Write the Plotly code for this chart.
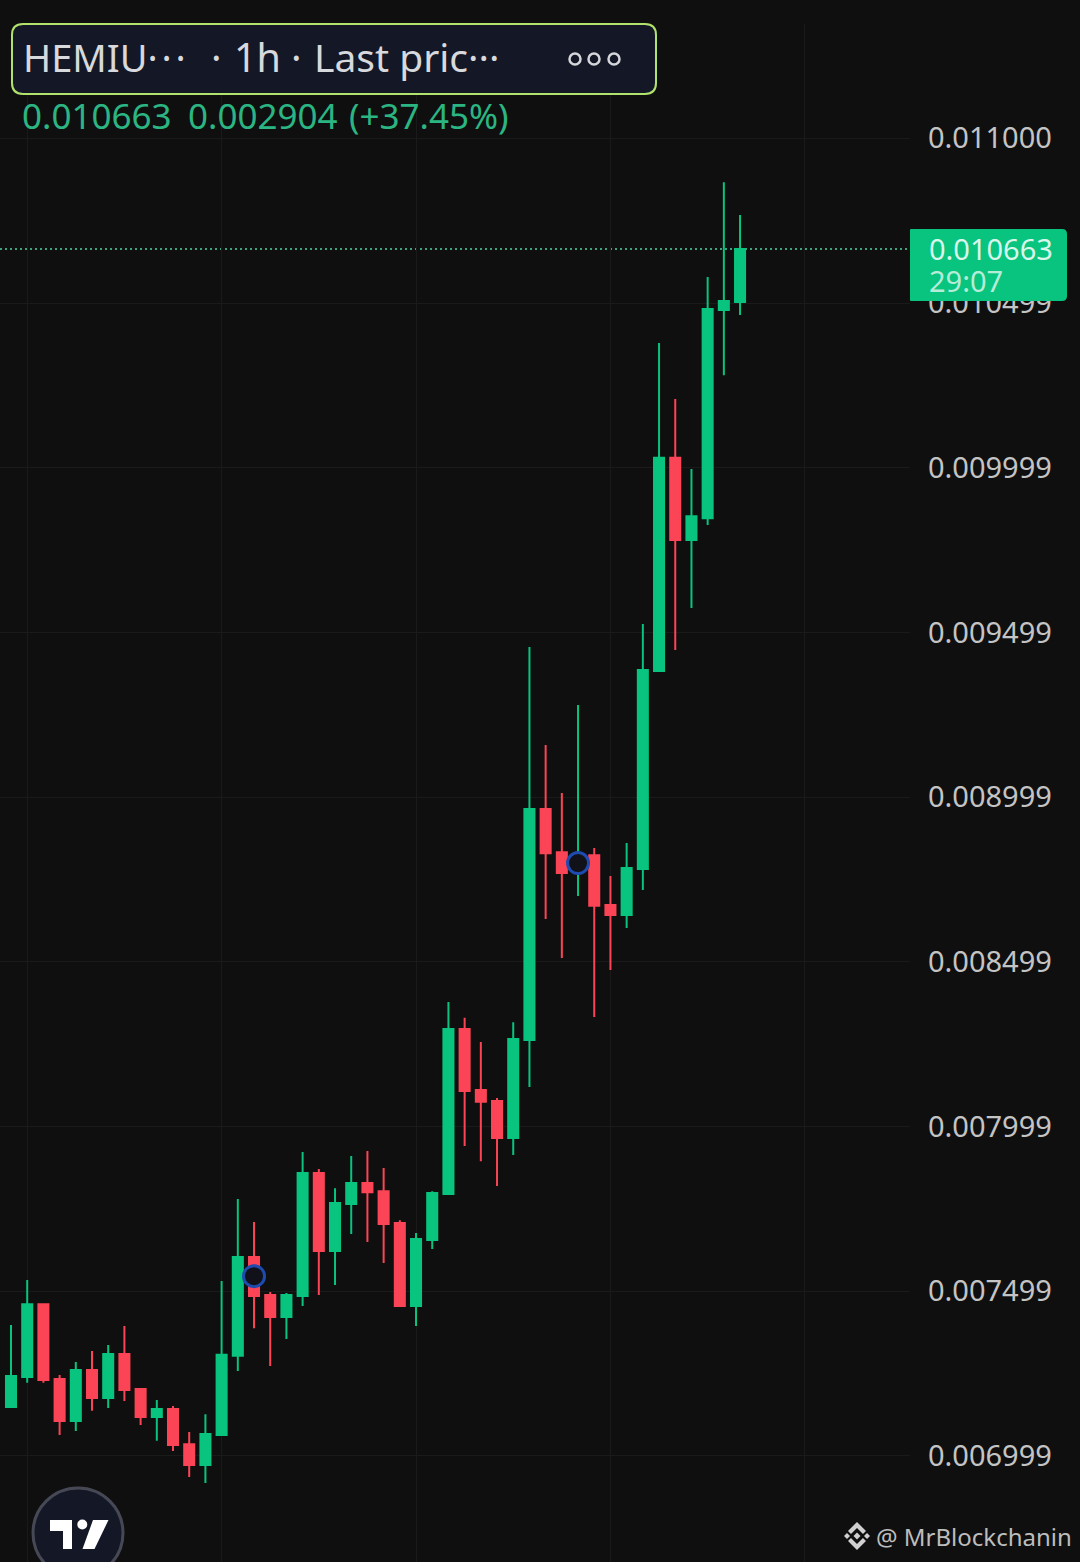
import plotly.graph_objects as go

# --- values ---
candle_index = list(range(46))
open_prices = [
    0.007148, 0.007239, 0.007460, 0.007233, 0.007105, 0.007260, 0.007175, 0.007309, 0.007202, 0.007117,
    0.007142, 0.007035, 0.006972, 0.007063, 0.007303, 0.007603, 0.007488, 0.007421, 0.007485, 0.007858,
    0.007621, 0.007764, 0.007828, 0.007803, 0.007706, 0.007454, 0.007655, 0.007794, 0.008295, 0.008110,
    0.008077, 0.007964, 0.008262, 0.008963, 0.008832, 0.008778, 0.008823, 0.008672, 0.008641, 0.008781,
    0.009382, 0.010029, 0.009780, 0.009846, 0.010478, 0.010502,
]
high_prices = [
    0.007397, 0.007533, 0.007460, 0.007245, 0.007284, 0.007318, 0.007336, 0.007394, 0.007202, 0.007169,
    0.007151, 0.007072, 0.007126, 0.007530, 0.007779, 0.007709, 0.007497, 0.007494, 0.007922, 0.007870,
    0.007812, 0.007910, 0.007925, 0.007873, 0.007715, 0.007676, 0.007803, 0.008377, 0.008329, 0.008256,
    0.008086, 0.008316, 0.009455, 0.009157, 0.009012, 0.009279, 0.008845, 0.008760, 0.008860, 0.009525,
    0.010378, 0.010208, 0.009995, 0.010578, 0.010866, 0.010766,
]
low_prices = [
    0.007145, 0.007221, 0.007221, 0.007063, 0.007075, 0.007136, 0.007145, 0.007166, 0.007093, 0.007045,
    0.007014, 0.006935, 0.006917, 0.007063, 0.007257, 0.007387, 0.007272, 0.007354, 0.007454, 0.007488,
    0.007518, 0.007673, 0.007649, 0.007585, 0.007454, 0.007394, 0.007627, 0.007791, 0.007940, 0.007894,
    0.007819, 0.007913, 0.008119, 0.008629, 0.008511, 0.008699, 0.008332, 0.008474, 0.008602, 0.008717,
    0.009382, 0.009446, 0.009573, 0.009825, 0.010280, 0.010463,
]
close_prices = [
    0.007242, 0.007460, 0.007230, 0.007105, 0.007260, 0.007175, 0.007309, 0.007199, 0.007117, 0.007142,
    0.007032, 0.006972, 0.007066, 0.007306, 0.007603, 0.007485, 0.007421, 0.007488, 0.007858, 0.007621,
    0.007767, 0.007828, 0.007800, 0.007703, 0.007454, 0.007658, 0.007797, 0.008295, 0.008107, 0.008074,
    0.007964, 0.008265, 0.008963, 0.008829, 0.008769, 0.008820, 0.008669, 0.008641, 0.008784, 0.009385,
    0.010029, 0.009780, 0.009852, 0.010481, 0.010505, 0.010663,
]

marker_index = [15, 35]
marker_prices = [0.007545, 0.008799]

price_ticks = [0.011000, 0.010499, 0.009999, 0.009499, 0.008999, 0.008499, 0.007999, 0.007499, 0.006999]
price_tick_labels = ["0.011000", "0.010499", "0.009999", "0.009499", "0.008999",
                     "0.008499", "0.007999", "0.007499", "0.006999"]
time_grid_index = [1, 13, 25, 37, 49]
last_price = 0.010663

# --- styling ---
WIDTH, HEIGHT = 1080, 1562
BG = "#0F0F0F"
GRID = "#1A1A1A"
UP = "#08C47E"
DOWN = "#FB4455"
FONT = "Noto Sans"
PANEL = "#141826"


def px(x):
    return x / WIDTH


def py(y):
    return 1 - y / HEIGHT


def poly(points):
    return "M " + " L ".join(f"{px(x):.5f},{py(y):.5f}" for x, y in points) + " Z"


def rounded_rect(x0, y0, x1, y1, r_left, r_right):
    # rounded rectangle as an svg path in paper coords
    rx_l, ry_l = r_left / WIDTH, r_left / HEIGHT
    rx_r, ry_r = r_right / WIDTH, r_right / HEIGHT
    l, r, t, b = px(x0), px(x1), py(y0), py(y1)
    return (
        f"M {l + rx_l:.5f},{t:.5f} L {r - rx_r:.5f},{t:.5f} Q {r:.5f},{t:.5f} {r:.5f},{t - ry_r:.5f} "
        f"L {r:.5f},{b + ry_r:.5f} Q {r:.5f},{b:.5f} {r - rx_r:.5f},{b:.5f} "
        f"L {l + rx_l:.5f},{b:.5f} Q {l:.5f},{b:.5f} {l:.5f},{b + ry_l:.5f} "
        f"L {l:.5f},{t - ry_l:.5f} Q {l:.5f},{t:.5f} {l + rx_l:.5f},{t:.5f} Z"
    )


def circle(cx, cy, r, **kwargs):
    return dict(type="circle", xref="paper", yref="paper", x0=px(cx - r), x1=px(cx + r),
                y0=py(cy + r), y1=py(cy - r), **kwargs)


def path_shape(path, fill, line_color=None, line_width=0):
    return dict(type="path", xref="paper", yref="paper", path=path, fillcolor=fill,
                line=dict(color=line_color or fill, width=line_width))


def label(text, x, y, size, color, xanchor="left"):
    return dict(text=text, x=px(x), y=py(y), xref="paper", yref="paper", xanchor=xanchor, yanchor="middle",
                showarrow=False, font=dict(family=FONT, size=size, color=color), borderpad=0, borderwidth=0)


fig = go.Figure()

fig.add_trace(go.Candlestick(
    x=candle_index, open=open_prices, high=high_prices, low=low_prices, close=close_prices,
    increasing=dict(line=dict(color=UP, width=2), fillcolor=UP),
    decreasing=dict(line=dict(color=DOWN, width=2), fillcolor=DOWN),
    whiskerwidth=0, hoverinfo="skip", showlegend=False,
))

# the two blue event markers sitting on the candles
fig.add_trace(go.Scatter(
    x=marker_index, y=marker_prices, mode="markers", hoverinfo="skip", showlegend=False,
    marker=dict(size=21, color="#101119", line=dict(color="#1E4BB0", width=3)),
))

shapes = [
    # last price line and tag
    dict(type="line", xref="paper", yref="y", x0=0, x1=910 / WIDTH, y0=last_price, y1=last_price,
         line=dict(color="#4FD6A4", width=1.5, dash="2px,3px"), layer="below"),
    path_shape(rounded_rect(910, 229, 1067, 301, 1, 5), UP),
    # header pill
    path_shape(rounded_rect(12, 24, 656, 94, 11, 11), PANEL, "#B2E26E", 2),
    circle(575, 59, 5.5, line=dict(color="#D5D6DA", width=2.5), fillcolor=PANEL),
    circle(594, 59, 5.5, line=dict(color="#D5D6DA", width=2.5), fillcolor=PANEL),
    circle(614, 59, 5.5, line=dict(color="#D5D6DA", width=2.5), fillcolor=PANEL),
    # tradingview badge
    circle(78, 1533, 45, line=dict(color="#464955", width=3), fillcolor=PANEL),
    path_shape(poly([(50, 1520), (72, 1520), (72, 1549), (63, 1549), (63, 1531), (50, 1531)]), "#FFFFFF"),
    circle(82.3, 1524.5, 5, line=dict(width=0), fillcolor="#FFFFFF"),
    path_shape(poly([(93, 1520), (108.5, 1520), (94.5, 1549), (82.5, 1549)]), "#FFFFFF"),
    # binance mark next to the watermark
    path_shape(poly([(857, 1522), (866, 1531), (863, 1534), (857, 1528), (851, 1534), (848, 1531)]), "#D0D0D0"),
    path_shape(poly([(857, 1550), (866, 1541), (863, 1538), (857, 1544), (851, 1538), (848, 1541)]), "#D0D0D0"),
    path_shape(poly([(857, 1532.5), (860.5, 1536), (857, 1539.5), (853.5, 1536)]), "#D0D0D0"),
    path_shape(poly([(847, 1533), (850, 1536), (847, 1539), (844, 1536)]), "#D0D0D0"),
    path_shape(poly([(867, 1533), (870, 1536), (867, 1539), (864, 1536)]), "#D0D0D0"),
]

annotations = [
    label("HEMIU\u00b7\u200a\u00b7\u200a\u00b7", 23, 57, 38, "#D8D9DD"),
    label("\u00b7", 211, 57, 39.5, "#D8D9DD"),
    label("1h", 234, 57, 39.5, "#D8D9DD"),
    label("\u00b7", 291, 57, 39.5, "#D8D9DD"),
    label("Last pric\u00b7\u00b7\u00b7", 314, 57, 39, "#D8D9DD"),
    label("0.010663", 22, 115, 35, "#2BB583"),
    label("0.002904", 188, 115, 35, "#2BB583"),
    label("(+37.45%)", 349, 115, 35, "#2BB583"),
    label("0.010663", 929, 249, 29, "#D9F6EB"),
    label("29:07", 929, 281, 29, "#B5ECD8"),
    label("@ MrBlockchanin", 876, 1536, 24, "#BDBDBD"),
]

fig.update_layout(
    width=WIDTH, height=HEIGHT,
    margin=dict(l=0, r=0, t=0, b=0),
    paper_bgcolor=BG, plot_bgcolor=BG,
    boxgap=0.38, boxgroupgap=0,
    showlegend=False,
    shapes=shapes, annotations=annotations,
    xaxis=dict(
        domain=[0, 910 / WIDTH], range=[-0.679, 55.49],
        tickmode="array", tickvals=time_grid_index, showticklabels=False, ticks="",
        showgrid=True, gridcolor=GRID, gridwidth=1, zeroline=False, showline=False,
        rangeslider=dict(visible=False),
    ),
    yaxis=dict(
        domain=[0, py(24)], range=[0.0066772, 0.0113461], side="right", anchor="x",
        tickmode="array", tickvals=price_ticks, ticktext=price_tick_labels, ticks="",
        ticklabelstandoff=17, tickfont=dict(family=FONT, size=29, color="#C4C4C4"),
        showgrid=True, gridcolor=GRID, gridwidth=1, zeroline=False, showline=False,
    ),
)

fig.write_html("out.html", config=dict(displayModeBar=False),
               post_script="document.body.style.margin='0';document.body.style.overflow='hidden';")
